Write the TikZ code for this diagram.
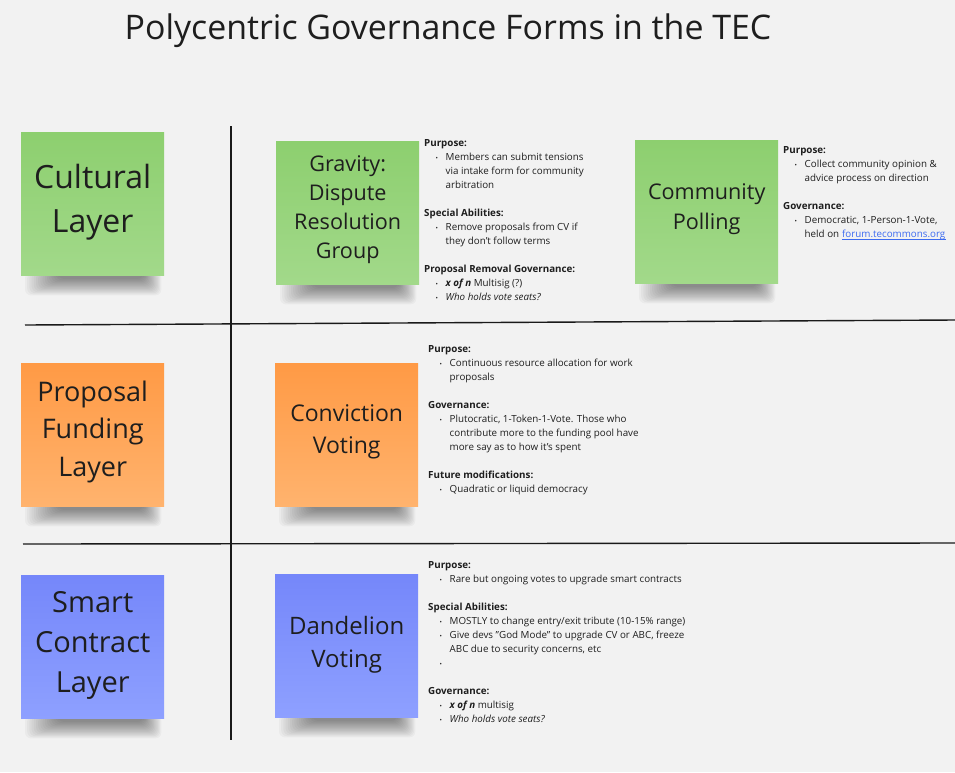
\documentclass[tikz,border=0pt]{standalone}
\usepackage{fontspec}
\setmainfont{Open Sans}
\pgfdeclarelayer{bg}
\pgfdeclarelayer{shadow}
\pgfsetlayers{bg,shadow,main}
\definecolor{canvas}{HTML}{F2F2F2}
\definecolor{ink}{HTML}{1E1E1E}
\definecolor{linecol}{HTML}{1A1A1A}
\definecolor{greenT}{HTML}{8DCF6F}
\definecolor{greenB}{HTML}{A2D98A}
\definecolor{orangeT}{HTML}{FF9A45}
\definecolor{orangeB}{HTML}{FFB36E}
\definecolor{blueT}{HTML}{7587FA}
\definecolor{blueB}{HTML}{8EA0FF}
\definecolor{linkblue}{HTML}{3D6BF0}
\newcommand{\hd}[1]{\textbf{#1}}
\newcommand{\bt}[1]{\hspace*{11.5pt}\makebox[10pt][l]{\fontsize{6.5}{6.5}\selectfont •}#1}
\newcommand{\ct}[1]{\hspace*{21.5pt}#1}
\newcommand{\linktext}[1]{\tikz[baseline=(lk.base)]{\node[inner sep=0pt, text=linkblue] (lk) {#1};
  \draw[linkblue, line width=0.45pt] ([yshift=-1.6pt]lk.base west) -- ([yshift=-1.6pt]lk.base east);}}
\newcommand{\stickyshadow}[1]{%
  \begin{pgfonlayer}{shadow}
  \foreach \i in {0,...,15}{
    \fill[black, opacity=0.03, rounded corners=6pt]
      ([xshift={(4+2.2*\i)*1pt}, yshift=3pt]#1.south west) rectangle
      ([xshift={(-3-1.2*\i)*1pt}, yshift={(-20+1.1*\i)*1pt}]#1.south east);
  }
  \end{pgfonlayer}}
\tikzset{
  sticky/.style={minimum width=143pt, minimum height=143pt, inner sep=0pt,
    anchor=north west, align=center, text=ink},
  greennote/.style={sticky, top color=greenT, bottom color=greenB},
  orangenote/.style={sticky, top color=orangeT, bottom color=orangeB},
  bluenote/.style={sticky, top color=blueT, bottom color=blueB},
  info/.style={anchor=north west, inner sep=0pt, align=left,
    font=\fontsize{9.8}{14}\selectfont, text=ink},
  divider/.style={draw=linecol, line width=1.4pt}
}
\begin{document}
\begin{tikzpicture}[x=1pt, y=-1pt]
\begin{pgfonlayer}{bg}
  \fill[canvas] (0,0) rectangle (955,772);
\end{pgfonlayer}
\useasboundingbox (0,0) rectangle (955,772);

\node[font=\fontsize{33.9}{40}\selectfont, text=ink] (title) at (448,31)
  {Polycentric Governance Forms in the TEC};

% dividers
\coordinate (vtop) at (231,126);
\coordinate (vbot) at (231,740);
\coordinate (h1l) at (25,325);
\coordinate (h1r) at (955,320);
\coordinate (h2l) at (23,544);
\coordinate (h2r) at (955,543);
\draw[divider] (vtop) -- (vbot);
\draw[divider] (h1l) -- (h1r);
\draw[divider] (h2l) -- (h2r);

% sticky notes
\node[greennote, font=\fontsize{32}{44}\selectfont, text depth=11.7pt] (cultural) at (21,132) {Cultural\\Layer};
\node[greennote, font=\fontsize{21.6}{29.3}\selectfont, text depth=11.3pt] (gravity) at (276,141) {Gravity:\\Dispute\\Resolution\\Group};
\node[greennote, font=\fontsize{21.6}{29.5}\selectfont, text depth=10.3pt] (polling) at (635,140) {Community\\Polling};
\node[orangenote, font=\fontsize{27}{37.5}\selectfont, text depth=12.5pt] (funding) at (21,363) {Proposal\\Funding\\Layer};
\node[orangenote, font=\fontsize{23}{32}\selectfont, text depth=11.5pt] (conviction) at (275,363) {Conviction\\Voting};
\node[bluenote, font=\fontsize{29}{40}\selectfont, text depth=10pt] (smart) at (21,575) {Smart\\Contract\\Layer};
\node[bluenote, font=\fontsize{24}{33}\selectfont, text depth=7.8pt] (dandelion) at (275,574) {Dandelion\\Voting};

\stickyshadow{cultural}
\stickyshadow{gravity}
\stickyshadow{polling}
\stickyshadow{funding}
\stickyshadow{conviction}
\stickyshadow{smart}
\stickyshadow{dandelion}

% info texts
\node[info] (gravinfo) at (424,139) {%
\hd{Purpose:}\\
\bt{Members can submit tensions}\\
\ct{via intake form for community}\\
\ct{arbitration}\\[14pt]
\hd{Special Abilities:}\\
\bt{Remove proposals from CV if}\\
\ct{they don't follow terms}\\[14pt]
\hd{Proposal Removal Governance:}\\
\bt{\textbf{\textit{x of n}} Multisig (?)}\\
\bt{\textit{Who holds vote seats?}}};

\node[info] (pollinfo) at (783,146.5) {%
\hd{Purpose:}\\
\bt{Collect community opinion \&}\\
\ct{advice process on direction}\\[14pt]
\hd{Governance:}\\
\bt{Democratic, 1-Person-1-Vote,}\\
\ct{held on \linktext{forum.tecommons.org}}};

\node[info] (convinfo) at (428,345.5) {%
\hd{Purpose:}\\
\bt{Continuous resource allocation for work}\\
\ct{proposals}\\[14pt]
\hd{Governance:}\\
\bt{Plutocratic, 1-Token-1-Vote. Those who}\\
\ct{contribute more to the funding pool have}\\
\ct{more say as to how it's spent}\\[14pt]
\hd{Future modifications:}\\
\bt{Quadratic or liquid democracy}};

\node[info] (dandinfo) at (428,561.5) {%
\hd{Purpose:}\\
\bt{Rare but ongoing votes to upgrade smart contracts}\\[14pt]
\hd{Special Abilities:}\\
\bt{MOSTLY to change entry/exit tribute (10-15\% range)}\\
\bt{Give devs "God Mode" to upgrade CV or ABC, freeze}\\
\ct{ABC due to security concerns, etc}\\
\bt{}\\[14pt]
\hd{Governance:}\\
\bt{\textbf{\textit{x of n}} multisig}\\
\bt{\textit{Who holds vote seats?}}};
\end{tikzpicture}
\end{document}
